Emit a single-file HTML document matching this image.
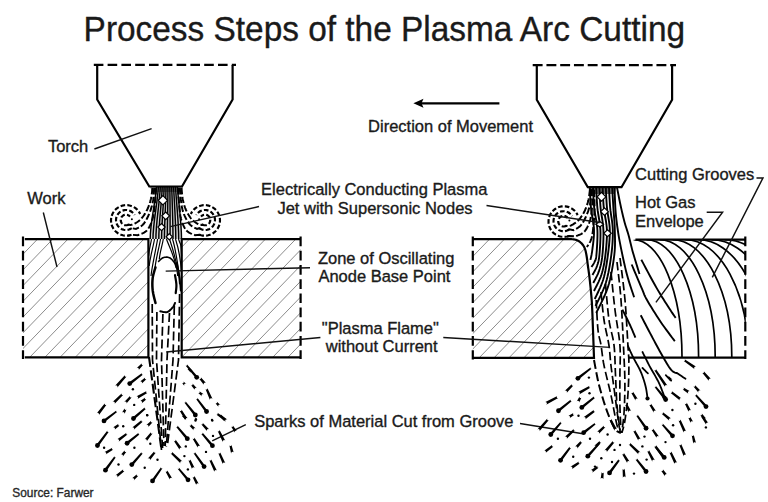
<!DOCTYPE html>
<html><head><meta charset="utf-8">
<style>
html,body{margin:0;padding:0;background:#fff;width:768px;height:502px;overflow:hidden}
svg{display:block}
text{font-family:"Liberation Sans",sans-serif;fill:#1a1a1a;stroke:#1a1a1a;stroke-width:0.35px}
</style></head><body>
<svg width="768" height="502" viewBox="0 0 768 502">
<defs>
<clipPath id="clipR"><rect x="474" y="239.7" width="271.8" height="117.6"/></clipPath>
<clipPath id="clipHL"><rect x="23" y="239" width="125.4" height="118.4"/><rect x="181.6" y="239" width="119" height="118.4"/></clipPath>
<clipPath id="clipHR"><path d="M472.8,239.2 L566.00,239.20 L566.39,239.20 L566.92,239.19 L567.55,239.18 L568.25,239.17 L568.98,239.17 L569.70,239.17 L570.39,239.18 L571.00,239.20 L571.55,239.22 L572.07,239.24 L572.57,239.26 L573.06,239.29 L573.54,239.34 L574.02,239.40 L574.51,239.49 L575.00,239.60 L575.50,239.74 L576.01,239.90 L576.52,240.08 L577.03,240.27 L577.54,240.50 L578.04,240.74 L578.52,241.01 L579.00,241.30 L579.47,241.62 L579.93,241.96 L580.39,242.33 L580.84,242.73 L581.28,243.14 L581.71,243.57 L582.11,244.03 L582.50,244.50 L582.87,244.98 L583.22,245.48 L583.55,245.98 L583.87,246.51 L584.17,247.07 L584.46,247.67 L584.74,248.31 L585.00,249.00 L585.25,249.74 L585.47,250.53 L585.68,251.35 L585.88,252.22 L586.07,253.12 L586.25,254.05 L586.43,255.01 L586.60,256.00 L586.77,257.02 L586.92,258.06 L587.07,259.14 L587.21,260.25 L587.35,261.39 L587.49,262.56 L587.64,263.77 L587.80,265.00 L587.97,266.26 L588.15,267.54 L588.34,268.85 L588.53,270.19 L588.72,271.57 L588.92,272.99 L589.11,274.47 L589.30,276.00 L589.49,277.60 L589.68,279.27 L589.88,280.99 L590.07,282.75 L590.26,284.54 L590.45,286.36 L590.63,288.18 L590.80,290.00 L590.97,291.76 L591.13,293.45 L591.28,295.11 L591.43,296.81 L591.58,298.60 L591.72,300.52 L591.86,302.64 L592.00,305.00 L592.13,307.63 L592.26,310.48 L592.39,313.52 L592.51,316.69 L592.63,319.97 L592.75,323.31 L592.88,326.67 L593.00,330.00 L593.13,333.54 L593.27,337.43 L593.42,341.48 L593.56,345.51 L593.70,349.35 L593.82,352.82 L593.92,355.73 L594.00,357.90 H472.8 Z"/></clipPath>
</defs>

<text transform="translate(83.6,40.7) scale(1,1.055)" x="0" y="0" font-size="33.4">Process Steps of the Plasma Arc Cutting</text>
<g font-size="16.5">
<text transform="translate(47.9,152.4) scale(1,1.03)" x="0" y="0">Torch</text>
<text transform="translate(27.3,204) scale(1,1.03)" x="0" y="0">Work</text>
<text transform="translate(368.1,131.9) scale(1,1.03)" x="0" y="0">Direction of Movement</text>
<text transform="translate(261.1,195.4) scale(1,1.03)" x="0" y="0">Electrically Conducting Plasma</text>
<text transform="translate(277.4,214) scale(1,1.03)" x="0" y="0">Jet with Supersonic Nodes</text>
<text transform="translate(317.9,264.4) scale(1,1.03)" x="0" y="0">Zone of Oscillating</text>
<text transform="translate(318.4,282.3) scale(1,1.03)" x="0" y="0">Anode Base Point</text>
<text transform="translate(321.8,334.2) scale(1,1.03)" x="0" y="0">"Plasma Flame"</text>
<text transform="translate(325.8,352) scale(1,1.03)" x="0" y="0">without Current</text>
<text transform="translate(254.2,427) scale(1,1.03)" x="0" y="0">Sparks of Material Cut from Groove</text>
<text transform="translate(635.1,180.3) scale(1,1.03)" x="0" y="0">Cutting Grooves</text>
<text transform="translate(635.0,207.8) scale(1,1.03)" x="0" y="0">Hot Gas</text>
<text transform="translate(635.0,227.3) scale(1,1.03)" x="0" y="0">Envelope</text>
</g>
<text x="12.3" y="496.9" font-size="11.9" style="fill:#333">Source: Farwer</text>
<path d="M24.43,237.00 L-93.84,359.40 M39.61,237.00 L-78.65,359.40 M54.80,237.00 L-63.46,359.40 M69.99,237.00 L-48.27,359.40 M85.18,237.00 L-33.08,359.40 M100.37,237.00 L-17.89,359.40 M115.56,237.00 L-2.71,359.40 M130.74,237.00 L12.48,359.40 M145.93,237.00 L27.67,359.40 M161.12,237.00 L42.86,359.40 M176.31,237.00 L58.05,359.40 M191.50,237.00 L73.24,359.40 M206.69,237.00 L88.43,359.40 M221.87,237.00 L103.61,359.40 M237.06,237.00 L118.80,359.40 M252.25,237.00 L133.99,359.40 M267.44,237.00 L149.18,359.40 M282.63,237.00 L164.37,359.40 M297.82,237.00 L179.56,359.40 M313.00,237.00 L194.74,359.40 M328.19,237.00 L209.93,359.40 M343.38,237.00 L225.12,359.40 M358.57,237.00 L240.31,359.40 M373.76,237.00 L255.50,359.40 M388.95,237.00 L270.69,359.40 M404.14,237.00 L285.87,359.40" stroke="#8c8c8c" stroke-width="1" fill="none" clip-path="url(#clipHL)"/>
<g stroke="#000" fill="none" stroke-width="2.2">
<path d="M93.8,64.9 H236" stroke-dasharray="9.6,4.2"/>
<path d="M97.2,64.9 V99.5 L149.3,186.5 H182 L232.6,99.5 V64.9"/>
<path d="M24.8,239.1 H148.4 V357.4 H24.8"/>
<path d="M300.6,239.1 H181.7 V357.4 H300.6"/>
<path d="M23,236.6 V359" stroke-dasharray="9.7,4.5"/>
<path d="M300.6,236.6 V359" stroke-dasharray="9.7,4.5"/>
</g>
<path d="M156.5,187 H177.4 C178.5,205 181.6,222 181.6,239 H150.2 C150.2,222 155.5,205 156.5,187 Z" fill="#000" opacity="0.15"/>
<path d="M150,187 H183 L181,192 H152 Z" fill="#000" opacity="0.4"/>
<g stroke="#000" fill="none" stroke-width="1.45">
<path d="M156.5,187 C155.1,205 150.2,222 150.2,239"/>
<path d="M158.4,187 C157.3,205 153.0,222 153.0,239"/>
<path d="M160.3,187 C159.4,205 155.9,222 155.9,239"/>
<path d="M162.2,187 C161.6,205 158.8,222 158.8,239"/>
<path d="M164.1,187 C163.7,205 161.6,222 161.6,239"/>
<path d="M166.0,187 C165.9,205 164.4,222 164.4,239"/>
<path d="M167.9,187 C168.0,205 167.3,222 167.3,239"/>
<path d="M169.8,187 C170.2,205 170.1,222 170.1,239"/>
<path d="M171.7,187 C172.3,205 173.0,222 173.0,239"/>
<path d="M173.6,187 C174.5,205 175.8,222 175.8,239"/>
<path d="M175.5,187 C176.6,205 178.7,222 178.7,239"/>
<path d="M177.4,187 C178.8,205 181.5,222 181.5,239"/>
</g>
<g stroke="#000" fill="none" stroke-width="1.2">
<path d="M151.5,239 C150.5,246 149.6,246.0 148.6,256.0"/>
<path d="M154.5,239 C153.5,246 150.2,256.0 149.2,266.0"/>
<path d="M157.6,239 C156.6,246 152.0,266.0 151.0,276.0"/>
<path d="M160.5,239 C159.5,246 156.0,258.0 155.0,268.0"/>
<path d="M163.3,239 C162.3,246 160.3,249.3 159.3,259.3"/>
<path d="M158.20,261.80 L158.57,261.46 L159.05,260.97 L159.62,260.38 L160.26,259.75 L160.94,259.12 L161.66,258.53 L162.39,258.04 L163.10,257.70 L163.83,257.47 L164.61,257.30 L165.42,257.19 L166.25,257.14 L167.08,257.17 L167.89,257.27 L168.67,257.44 L169.40,257.70 L170.10,258.06 L170.79,258.54 L171.46,259.11 L172.11,259.75 L172.73,260.43 L173.30,261.13 L173.83,261.83 L174.30,262.50 L174.71,263.20 L175.07,263.98 L175.38,264.79 L175.66,265.60 L175.89,266.38 L176.09,267.08 L176.26,267.66 L176.40,268.10" stroke-width="1.6"/>
<path d="M166.5,239 C169.5,248 176.7,260.0 177.7,276.0"/>
<path d="M169.5,239 C172.5,248 178.6,268.3 179.6,284.3"/>
<path d="M172.5,239 C175.5,248 179.8,275.5 180.8,291.5"/>
<path d="M175.5,239 C178.5,248 180.4,256.0 181.4,272.0"/>
<path d="M178.5,239 C181.5,248 180.6,240.0 181.6,256.0"/>
</g>
<g stroke="#000" fill="none" stroke-width="2.15" stroke-dasharray="4.6,2.2">
<path d="M131.53,234.78 L129.84,235.29 L128.10,235.59 L126.33,235.70 L124.57,235.60 L122.83,235.30 L121.13,234.80 L119.50,234.11 L117.97,233.23 L116.54,232.18 L115.25,230.98 L114.10,229.63 L113.12,228.17 L112.31,226.59 L111.69,224.94 L111.26,223.22 L111.04,221.47 L111.02,219.70 L111.20,217.94 L111.58,216.21 L112.16,214.54 L112.93,212.95 L113.88,211.46 L115.00,210.09 L116.26,208.85 L117.66,207.77 L119.18,206.86 L120.79,206.13 L122.47,205.59 L124.20,205.24 L125.97,205.10 L127.73,205.17 L129.48,205.43 L131.19,205.90 L132.83,206.56 L134.38,207.41 L135.82,208.43 L137.14,209.60 L138.32,210.93 L139.33,212.38 L140.17,213.93"/>
<path d="M199.47,234.78 L201.16,235.29 L202.90,235.59 L204.67,235.70 L206.43,235.60 L208.17,235.30 L209.87,234.80 L211.50,234.11 L213.03,233.23 L214.46,232.18 L215.75,230.98 L216.90,229.63 L217.88,228.17 L218.69,226.59 L219.31,224.94 L219.74,223.22 L219.96,221.47 L219.98,219.70 L219.80,217.94 L219.42,216.21 L218.84,214.54 L218.07,212.95 L217.12,211.46 L216.00,210.09 L214.74,208.85 L213.34,207.77 L211.82,206.86 L210.21,206.13 L208.53,205.59 L206.80,205.24 L205.03,205.10 L203.27,205.17 L201.52,205.43 L199.81,205.90 L198.17,206.56 L196.62,207.41 L195.18,208.43 L193.86,209.60 L192.68,210.93 L191.67,212.38 L190.83,213.93"/>
<path d="M131.74,228.19 L130.71,228.82 L129.62,229.32 L128.48,229.69 L127.31,229.91 L126.11,230.00 L124.91,229.94 L123.73,229.74 L122.58,229.40 L121.48,228.92 L120.44,228.31 L119.49,227.59 L118.63,226.76 L117.87,225.82 L117.23,224.81 L116.72,223.73 L116.34,222.59 L116.10,221.41 L116.00,220.22 L116.05,219.02 L116.24,217.84 L116.57,216.68 L117.03,215.58 L117.63,214.54 L118.34,213.57 L119.16,212.70 L120.09,211.94 L121.09,211.29 L122.17,210.76 L123.31,210.37 L124.48,210.12 L125.67,210.01 L126.87,210.04 L128.06,210.21 L129.21,210.53 L130.32,210.98 L131.37,211.57 L132.34,212.27 L133.22,213.08 L134.00,214.00 L134.66,215.00"/>
<path d="M199.26,228.19 L200.29,228.82 L201.38,229.32 L202.52,229.69 L203.69,229.91 L204.89,230.00 L206.09,229.94 L207.27,229.74 L208.42,229.40 L209.52,228.92 L210.56,228.31 L211.51,227.59 L212.37,226.76 L213.13,225.82 L213.77,224.81 L214.28,223.73 L214.66,222.59 L214.90,221.41 L215.00,220.22 L214.95,219.02 L214.76,217.84 L214.43,216.68 L213.97,215.58 L213.37,214.54 L212.66,213.57 L211.84,212.70 L210.91,211.94 L209.91,211.29 L208.83,210.76 L207.69,210.37 L206.52,210.12 L205.33,210.01 L204.13,210.04 L202.94,210.21 L201.79,210.53 L200.68,210.98 L199.63,211.57 L198.66,212.27 L197.78,213.08 L197.00,214.00 L196.34,215.00"/>
<path d="M128.65,224.59 L128.11,224.86 L127.55,225.07 L126.97,225.21 L126.37,225.29 L125.77,225.29 L125.17,225.23 L124.58,225.11 L124.01,224.91 L123.47,224.66 L122.96,224.34 L122.49,223.97 L122.06,223.55 L121.69,223.08 L121.36,222.57 L121.10,222.03 L120.91,221.46 L120.77,220.87 L120.71,220.28 L120.71,219.68 L120.78,219.08 L120.92,218.49 L121.12,217.93 L121.39,217.39 L121.71,216.88 L122.09,216.42 L122.52,216.00 L123.00,215.63 L123.51,215.32 L124.06,215.07 L124.63,214.88 L125.22,214.76 L125.82,214.70 L126.42,214.72 L127.01,214.80 L127.59,214.95 L128.16,215.16 L128.69,215.43 L129.19,215.77 L129.65,216.16 L130.06,216.59"/>
<path d="M202.35,224.59 L202.89,224.86 L203.45,225.07 L204.03,225.21 L204.63,225.29 L205.23,225.29 L205.83,225.23 L206.42,225.11 L206.99,224.91 L207.53,224.66 L208.04,224.34 L208.51,223.97 L208.94,223.55 L209.31,223.08 L209.64,222.57 L209.90,222.03 L210.09,221.46 L210.23,220.87 L210.29,220.28 L210.29,219.68 L210.22,219.08 L210.08,218.49 L209.88,217.93 L209.61,217.39 L209.29,216.88 L208.91,216.42 L208.48,216.00 L208.00,215.63 L207.49,215.32 L206.94,215.07 L206.37,214.88 L205.78,214.76 L205.18,214.70 L204.58,214.72 L203.99,214.80 L203.41,214.95 L202.84,215.16 L202.31,215.43 L201.81,215.77 L201.35,216.16 L200.94,216.59"/>
</g>
<g stroke="#000" fill="none" stroke-width="2.0" stroke-dasharray="6.5,2.3">
<path d="M156.00,188.00 L155.95,188.82 L155.89,189.86 L155.82,191.08 L155.74,192.46 L155.65,193.95 L155.55,195.53 L155.43,197.15 L155.31,198.80 L155.16,200.42 L155.00,202.00 L154.83,203.59 L154.66,205.26 L154.49,206.99 L154.30,208.76 L154.10,210.54 L153.87,212.31 L153.61,214.05 L153.32,215.72 L152.98,217.31 L152.60,218.80 L152.17,220.21 L151.71,221.58 L151.21,222.91 L150.68,224.18 L150.11,225.41 L149.51,226.57 L148.88,227.67 L148.22,228.69 L147.52,229.64 L146.80,230.50 L145.99,231.27 L145.06,231.96 L144.05,232.57 L143.00,233.11 L141.94,233.58 L140.91,233.99 L139.94,234.36 L139.08,234.67 L138.35,234.95 L137.80,235.20 L131.53,234.78 L129.84,235.29 L128.10,235.59"/>
<path d="M178.00,188.00 L178.06,188.82 L178.12,189.86 L178.19,191.08 L178.28,192.46 L178.38,193.95 L178.48,195.53 L178.59,197.15 L178.72,198.80 L178.85,200.42 L179.00,202.00 L179.14,203.59 L179.28,205.26 L179.42,206.99 L179.56,208.76 L179.72,210.54 L179.90,212.31 L180.11,214.05 L180.36,215.72 L180.65,217.31 L181.00,218.80 L181.39,220.21 L181.83,221.58 L182.30,222.91 L182.80,224.18 L183.34,225.41 L183.92,226.57 L184.52,227.67 L185.15,228.69 L185.81,229.64 L186.50,230.50 L187.27,231.27 L188.14,231.96 L189.10,232.57 L190.09,233.11 L191.09,233.58 L192.07,233.99 L192.98,234.36 L193.80,234.67 L194.48,234.95 L195.00,235.20 L199.47,234.78 L201.16,235.29 L202.90,235.59"/>
<path d="M154.20,188.00 L154.14,188.76 L154.07,189.73 L154.00,190.89 L153.92,192.18 L153.82,193.58 L153.70,195.04 L153.57,196.52 L153.41,197.98 L153.22,199.39 L153.00,200.70 L152.75,201.95 L152.49,203.21 L152.20,204.46 L151.89,205.71 L151.55,206.96 L151.19,208.19 L150.81,209.42 L150.40,210.63 L149.96,211.82 L149.50,213.00 L149.01,214.18 L148.48,215.38 L147.93,216.58 L147.35,217.78 L146.75,218.96 L146.13,220.09 L145.49,221.18 L144.84,222.20 L144.17,223.15 L143.50,224.00 L142.78,224.77 L141.98,225.46 L141.12,226.10 L140.25,226.67 L139.38,227.19 L138.53,227.65 L137.75,228.06 L137.04,228.42 L136.45,228.73 L136.00,229.00 L131.74,228.19 L130.71,228.82 L129.62,229.32"/>
<path d="M179.80,188.00 L179.87,188.76 L179.94,189.73 L180.03,190.89 L180.13,192.18 L180.24,193.58 L180.37,195.04 L180.51,196.52 L180.66,197.98 L180.82,199.39 L181.00,200.70 L181.18,201.95 L181.36,203.21 L181.54,204.46 L181.74,205.71 L181.95,206.96 L182.19,208.19 L182.45,209.42 L182.76,210.63 L183.10,211.82 L183.50,213.00 L183.95,214.18 L184.45,215.38 L185.00,216.58 L185.58,217.78 L186.19,218.96 L186.82,220.09 L187.48,221.18 L188.15,222.20 L188.82,223.15 L189.50,224.00 L190.22,224.77 L191.02,225.46 L191.88,226.10 L192.75,226.67 L193.62,227.19 L194.47,227.65 L195.25,228.06 L195.96,228.42 L196.55,228.73 L197.00,229.00 L199.26,228.19 L200.29,228.82 L201.38,229.32"/>
<path d="M152.50,188.00 L152.41,188.68 L152.30,189.56 L152.18,190.61 L152.04,191.78 L151.89,193.04 L151.71,194.35 L151.52,195.68 L151.30,196.99 L151.06,198.24 L150.80,199.40 L150.51,200.50 L150.21,201.60 L149.88,202.69 L149.54,203.77 L149.17,204.85 L148.78,205.91 L148.37,206.96 L147.93,208.00 L147.48,209.01 L147.00,210.00 L146.49,210.98 L145.96,211.97 L145.39,212.94 L144.81,213.91 L144.20,214.85 L143.58,215.76 L142.94,216.64 L142.30,217.48 L141.65,218.27 L141.00,219.00 L140.33,219.68 L139.62,220.32 L138.88,220.92 L138.13,221.48 L137.38,222.00 L136.63,222.48 L135.91,222.92 L135.22,223.32 L134.58,223.68 L134.00,224.00 L133.46,224.27 L132.94,224.47 L132.45,224.63 L131.99,224.74 L131.56,224.81 L131.17,224.86 L130.81,224.90 L130.50,224.93 L130.22,224.96 L130.00,225.00 L128.65,224.59 L128.11,224.86 L127.55,225.07"/>
<path d="M181.50,188.00 L181.57,188.68 L181.65,189.56 L181.73,190.61 L181.84,191.78 L181.95,193.04 L182.08,194.35 L182.23,195.68 L182.40,196.99 L182.59,198.24 L182.80,199.40 L183.03,200.50 L183.28,201.60 L183.55,202.69 L183.83,203.77 L184.14,204.85 L184.46,205.91 L184.81,206.96 L185.18,208.00 L185.58,209.01 L186.00,210.00 L186.45,210.98 L186.94,211.97 L187.45,212.94 L187.99,213.91 L188.54,214.85 L189.12,215.76 L189.70,216.64 L190.30,217.48 L190.90,218.27 L191.50,219.00 L192.12,219.68 L192.78,220.32 L193.46,220.92 L194.15,221.48 L194.84,222.00 L195.53,222.48 L196.20,222.92 L196.84,223.32 L197.45,223.68 L198.00,224.00 L198.52,224.27 L199.02,224.47 L199.51,224.63 L199.97,224.74 L200.41,224.81 L200.81,224.86 L201.17,224.90 L201.50,224.93 L201.77,224.96 L202.00,225.00 L202.35,224.59 L202.89,224.86 L203.45,225.07"/>
</g>
<circle cx="131.4" cy="211.6" r="1.0" fill="#000"/>
<circle cx="131.9" cy="219.2" r="1.0" fill="#000"/>
<circle cx="199.6" cy="211.6" r="1.0" fill="#000"/>
<circle cx="199.1" cy="219.2" r="1.0" fill="#000"/>
<path d="M162.9,195.7 L167.5,200.3 L162.9,204.9 L158.3,200.3 Z" fill="#fff" stroke="#000" stroke-width="1.2"/>
<path d="M165.7,212.0 L169.5,215.8 L165.7,219.6 L161.9,215.8 Z" fill="#fff" stroke="#000" stroke-width="1.2"/>
<path d="M161.5,223.5 L165.1,227.1 L161.5,230.7 L157.9,227.1 Z" fill="#fff" stroke="#000" stroke-width="1.2"/>
<path d="M169.3,233.7 L172.4,236.8 L169.3,239.9 L166.2,236.8 Z" fill="#fff" stroke="#000" stroke-width="1.2"/>
<g stroke="#000" fill="none" stroke-linecap="round">
<path d="M155.50,267.40 L155.26,268.20 L154.93,269.24 L154.53,270.48 L154.10,271.87 L153.67,273.35 L153.27,274.89 L152.94,276.42 L152.70,277.90 L152.55,279.37 L152.44,280.88 L152.37,282.44 L152.35,284.02 L152.37,285.62 L152.44,287.22 L152.55,288.82 L152.70,290.40 L152.94,292.06 L153.27,293.84 L153.67,295.67 L154.10,297.48 L154.53,299.19 L154.93,300.73 L155.26,302.03 L155.50,303.00" stroke-width="2.5"/>
<path d="M175.00,275.10 L175.12,275.86 L175.30,276.87 L175.51,278.08 L175.74,279.43 L175.97,280.83 L176.16,282.24 L176.32,283.58 L176.40,284.80 L176.41,285.97 L176.36,287.19 L176.26,288.41 L176.14,289.61 L176.00,290.72 L175.88,291.72 L175.77,292.56 L175.70,293.20" stroke-width="2.2"/>
<path d="M160.30,311.30 L160.85,311.39 L161.59,311.56 L162.47,311.76 L163.45,311.96 L164.47,312.12 L165.48,312.20 L166.44,312.18 L167.30,312.00 L168.09,311.65 L168.88,311.15 L169.66,310.54 L170.41,309.85 L171.12,309.12 L171.78,308.40 L172.38,307.71 L172.90,307.10 L173.34,306.52 L173.72,305.92 L174.04,305.32 L174.30,304.74 L174.52,304.20 L174.70,303.72 L174.86,303.31 L175.00,303.00" stroke-width="2"/>
<path d="M177.00,262.50 L177.23,263.71 L177.55,265.34 L177.94,267.27 L178.36,269.42 L178.78,271.66 L179.18,273.89 L179.53,276.01 L179.80,277.90 L179.99,279.69 L180.14,281.52 L180.25,283.35 L180.33,285.11 L180.38,286.76 L180.42,288.22 L180.46,289.46 L180.50,290.40" stroke-width="1.4"/>
</g>
<g stroke="#000" fill="none" stroke-width="1.7" stroke-dasharray="9,3.8">
<path d="M152.2,304 L152.5,360 L161.5,450"/>
<path d="M156.9,312 L156.5,360 L162.6,448"/>
<path d="M162.9,314 L161.5,360 L164.0,446"/>
<path d="M169.5,313 L167.0,360 L165.2,446"/>
<path d="M174.3,306 L173.0,360 L166.3,447"/>
<path d="M179.6,294 L178.5,360 L167.3,446"/>
</g>
<g stroke="#000" fill="none" stroke-width="2.1" stroke-dasharray="10,3.5">
<path d="M149,357 L161.5,450"/>
</g>
<path d="M461.80,237.00 L342.96,360.00 M476.70,237.00 L357.86,360.00 M491.59,237.00 L372.75,360.00 M506.49,237.00 L387.65,360.00 M521.39,237.00 L402.55,360.00 M536.29,237.00 L417.45,360.00 M551.19,237.00 L432.35,360.00 M566.09,237.00 L447.25,360.00 M580.99,237.00 L462.14,360.00 M595.88,237.00 L477.04,360.00 M610.78,237.00 L491.94,360.00 M625.68,237.00 L506.84,360.00 M640.58,237.00 L521.74,360.00 M655.48,237.00 L536.64,360.00 M670.38,237.00 L551.54,360.00 M685.28,237.00 L566.43,360.00 M700.17,237.00 L581.33,360.00" stroke="#8c8c8c" stroke-width="1" fill="none" clip-path="url(#clipHR)"/>
<g stroke="#000" fill="none" stroke-width="2.2">
<path d="M532.7,65.1 H676" stroke-dasharray="9.9,3.85"/>
<path d="M536.8,65.1 V99.7 L587.8,187.2 H621.5 L672.1,99.7 V65.1"/>
<path d="M472.8,239.2 L566.00,239.20 L566.39,239.20 L566.92,239.19 L567.55,239.18 L568.25,239.17 L568.98,239.17 L569.70,239.17 L570.39,239.18 L571.00,239.20 L571.55,239.22 L572.07,239.24 L572.57,239.26 L573.06,239.29 L573.54,239.34 L574.02,239.40 L574.51,239.49 L575.00,239.60 L575.50,239.74 L576.01,239.90 L576.52,240.08 L577.03,240.27 L577.54,240.50 L578.04,240.74 L578.52,241.01 L579.00,241.30 L579.47,241.62 L579.93,241.96 L580.39,242.33 L580.84,242.73 L581.28,243.14 L581.71,243.57 L582.11,244.03 L582.50,244.50 L582.87,244.98 L583.22,245.48 L583.55,245.98 L583.87,246.51 L584.17,247.07 L584.46,247.67 L584.74,248.31 L585.00,249.00 L585.25,249.74 L585.47,250.53 L585.68,251.35 L585.88,252.22 L586.07,253.12 L586.25,254.05 L586.43,255.01 L586.60,256.00 L586.77,257.02 L586.92,258.06 L587.07,259.14 L587.21,260.25 L587.35,261.39 L587.49,262.56 L587.64,263.77 L587.80,265.00 L587.97,266.26 L588.15,267.54 L588.34,268.85 L588.53,270.19 L588.72,271.57 L588.92,272.99 L589.11,274.47 L589.30,276.00 L589.49,277.60 L589.68,279.27 L589.88,280.99 L590.07,282.75 L590.26,284.54 L590.45,286.36 L590.63,288.18 L590.80,290.00 L590.97,291.76 L591.13,293.45 L591.28,295.11 L591.43,296.81 L591.58,298.60 L591.72,300.52 L591.86,302.64 L592.00,305.00 L592.13,307.63 L592.26,310.48 L592.39,313.52 L592.51,316.69 L592.63,319.97 L592.75,323.31 L592.88,326.67 L593.00,330.00 L593.13,333.54 L593.27,337.43 L593.42,341.48 L593.56,345.51 L593.70,349.35 L593.82,352.82 L593.92,355.73 L594.00,357.90 H472.8"/>
<path d="M635.4,239.7 H745.3"/>
<path d="M628.2,357.7 H745.3"/>
<path d="M472.8,236.6 V359.5" stroke-dasharray="9.7,4.5"/>
<path d="M745.3,236.6 V359" stroke-dasharray="9.7,4.5"/>
</g>
<g stroke="#000" fill="none" stroke-width="1.7" clip-path="url(#clipR)">
<path d="M633.5,239.7 A48.5,117.3 0 0 1 682.0,357"/>
<path d="M646.5,239.7 A52.1,117.3 0 0 1 698.6,357"/>
<path d="M659.5,239.7 A55.7,117.3 0 0 1 715.2,357"/>
<path d="M672.5,239.7 A59.3,117.3 0 0 1 731.8,357"/>
<path d="M685.5,239.7 A62.9,117.3 0 0 1 748.4,357"/>
<path d="M698.5,239.7 A66.5,117.3 0 0 1 765.0,357"/>
<path d="M711.5,239.7 A70.1,117.3 0 0 1 781.6,357"/>
<path d="M724.5,239.7 A73.7,117.3 0 0 1 798.2,357"/>
</g>
<path d="M588.5,187.5 H616 L615,194 H590 Z" fill="#000" opacity="0.6"/>
<g stroke="#000" fill="none" stroke-width="1.9">
<path d="M589.80,187.50 L589.88,189.07 L589.97,191.15 L590.08,193.62 L590.21,196.38 L590.37,199.30 L590.55,202.29 L590.76,205.23 L591.00,208.00 L591.32,210.69 L591.73,213.44 L592.20,216.23 L592.68,219.03 L593.14,221.83 L593.54,224.61 L593.84,227.34 L594.00,230.00 L594.01,232.66 L593.91,235.38 L593.72,238.09 L593.46,240.76 L593.16,243.33 L592.85,245.76 L592.55,248.00 L592.30,250.00 L592.06,251.79 L591.79,253.42 L591.52,254.89 L591.24,256.20 L590.98,257.36 L590.75,258.36 L590.55,259.21 L590.40,259.90"/>
<path d="M593.00,187.50 L593.08,189.07 L593.17,191.15 L593.27,193.62 L593.40,196.38 L593.55,199.30 L593.73,202.29 L593.95,205.23 L594.20,208.00 L594.53,210.66 L594.96,213.32 L595.44,216.01 L595.94,218.72 L596.42,221.46 L596.85,224.25 L597.19,227.10 L597.40,230.00 L597.48,233.11 L597.46,236.47 L597.36,239.96 L597.21,243.46 L597.01,246.84 L596.80,249.97 L596.59,252.73 L596.40,255.00 L596.23,256.71 L596.06,257.97 L595.87,258.88 L595.68,259.52 L595.47,260.02 L595.23,260.47 L594.97,260.96 L594.68,261.60 L594.34,262.37 L593.92,263.16 L593.46,263.95 L592.99,264.71 L592.53,265.42 L592.11,266.06 L591.76,266.59 L591.50,267.00"/>
<path d="M596.20,187.50 L596.28,189.07 L596.37,191.15 L596.48,193.62 L596.61,196.38 L596.77,199.30 L596.95,202.29 L597.16,205.23 L597.40,208.00 L597.72,210.66 L598.12,213.32 L598.57,216.01 L599.04,218.72 L599.49,221.46 L599.89,224.25 L600.20,227.10 L600.40,230.00 L600.48,233.08 L600.46,236.37 L600.38,239.77 L600.24,243.19 L600.05,246.52 L599.84,249.66 L599.62,252.52 L599.40,255.00 L599.18,257.06 L598.94,258.78 L598.69,260.24 L598.41,261.50 L598.10,262.64 L597.77,263.72 L597.40,264.82 L596.99,266.00 L596.49,267.28 L595.90,268.60 L595.26,269.92 L594.59,271.19 L593.94,272.37 L593.35,273.43 L592.86,274.32 L592.50,275.00"/>
<path d="M599.40,187.50 L599.48,189.07 L599.58,191.15 L599.69,193.62 L599.83,196.38 L599.98,199.30 L600.16,202.29 L600.37,205.23 L600.60,208.00 L600.90,210.66 L601.28,213.32 L601.70,216.01 L602.14,218.72 L602.56,221.46 L602.93,224.25 L603.22,227.10 L603.40,230.00 L603.47,233.05 L603.47,236.26 L603.40,239.58 L603.27,242.91 L603.10,246.20 L602.89,249.35 L602.66,252.31 L602.40,255.00 L602.13,257.40 L601.82,259.59 L601.49,261.60 L601.11,263.48 L600.71,265.25 L600.25,266.97 L599.76,268.67 L599.21,270.40 L598.57,272.20 L597.79,274.04 L596.94,275.88 L596.06,277.66 L595.20,279.32 L594.43,280.80 L593.77,282.05 L593.30,283.00"/>
<path d="M602.60,187.50 L602.68,189.07 L602.77,191.15 L602.88,193.62 L603.01,196.38 L603.16,199.30 L603.34,202.29 L603.55,205.23 L603.80,208.00 L604.13,210.66 L604.55,213.32 L605.03,216.01 L605.52,218.72 L605.99,221.46 L606.40,224.25 L606.72,227.10 L606.90,230.00 L606.95,233.02 L606.91,236.16 L606.78,239.38 L606.59,242.64 L606.35,245.87 L606.06,249.05 L605.74,252.10 L605.40,255.00 L605.04,257.75 L604.66,260.40 L604.24,262.96 L603.77,265.45 L603.27,267.87 L602.71,270.23 L602.09,272.53 L601.41,274.80 L600.60,277.11 L599.62,279.48 L598.56,281.85 L597.46,284.14 L596.39,286.27 L595.41,288.17 L594.60,289.77 L594.00,291.00"/>
<path d="M605.80,187.50 L605.88,189.07 L605.98,191.15 L606.09,193.62 L606.22,196.38 L606.38,199.30 L606.56,202.29 L606.77,205.23 L607.00,208.00 L607.31,210.66 L607.70,213.32 L608.14,216.01 L608.59,218.72 L609.02,221.46 L609.39,224.25 L609.66,227.10 L609.80,230.00 L609.81,232.99 L609.72,236.06 L609.55,239.19 L609.31,242.36 L609.02,245.55 L608.67,248.74 L608.30,251.89 L607.90,255.00 L607.48,258.09 L607.03,261.21 L606.55,264.33 L606.02,267.42 L605.44,270.48 L604.80,273.48 L604.09,276.39 L603.31,279.20 L602.38,282.02 L601.26,284.92 L600.04,287.82 L598.77,290.61 L597.54,293.22 L596.42,295.55 L595.48,297.50 L594.80,299.00"/>
<path d="M609.00,187.50 L609.08,189.07 L609.18,191.15 L609.30,193.62 L609.44,196.38 L609.59,199.30 L609.77,202.29 L609.97,205.23 L610.20,208.00 L610.49,210.66 L610.85,213.32 L611.25,216.01 L611.67,218.72 L612.06,221.46 L612.41,224.25 L612.66,227.10 L612.80,230.00 L612.84,232.96 L612.81,235.97 L612.71,239.02 L612.56,242.12 L612.34,245.27 L612.05,248.47 L611.71,251.71 L611.30,255.00 L610.83,258.40 L610.31,261.92 L609.73,265.52 L609.08,269.15 L608.37,272.77 L607.58,276.32 L606.72,279.77 L605.77,283.05 L604.64,286.32 L603.30,289.68 L601.81,293.04 L600.29,296.28 L598.81,299.30 L597.46,302.00 L596.32,304.26 L595.50,306.00"/>
<path d="M612.20,187.50 L612.29,189.07 L612.41,191.15 L612.55,193.62 L612.71,196.38 L612.88,199.30 L613.06,202.29 L613.23,205.23 L613.40,208.00 L613.58,210.66 L613.78,213.32 L613.99,216.01 L614.21,218.72 L614.41,221.46 L614.58,224.25 L614.71,227.10 L614.80,230.00 L614.87,232.93 L614.95,235.88 L615.01,238.85 L615.03,241.88 L615.00,244.99 L614.88,248.19 L614.65,251.52 L614.30,255.00 L613.82,258.70 L613.25,262.63 L612.59,266.71 L611.84,270.88 L610.99,275.06 L610.07,279.17 L609.06,283.14 L607.97,286.90 L606.67,290.62 L605.13,294.44 L603.43,298.26 L601.69,301.94 L599.99,305.38 L598.44,308.45 L597.14,311.03 L596.20,313.00"/>
<path d="M617.00,187.50 L617.27,188.85 L617.62,190.66 L618.03,192.80 L618.50,195.19 L619.00,197.71 L619.51,200.25 L620.01,202.72 L620.50,205.00 L620.98,207.18 L621.46,209.38 L621.96,211.59 L622.47,213.78 L622.98,215.94 L623.49,218.04 L624.00,220.07 L624.50,222.00 L625.00,223.80 L625.50,225.46 L626.00,227.04 L626.50,228.57 L627.00,230.09 L627.50,231.64 L628.00,233.26 L628.50,235.00 L628.99,236.85 L629.48,238.77 L629.96,240.75 L630.45,242.76 L630.94,244.80 L631.44,246.85 L631.96,248.89 L632.50,250.90 L633.08,252.96 L633.70,255.10 L634.36,257.28 L635.01,259.45 L635.66,261.55 L636.26,263.52 L636.82,265.33 L637.30,266.90 L637.71,268.26 L638.08,269.47 L638.41,270.53 L638.70,271.45 L638.95,272.25 L639.17,272.93 L639.35,273.51 L639.50,274.00"/>
<path d="M614.50,187.50 L614.57,189.27 L614.66,191.65 L614.76,194.49 L614.88,197.62 L615.01,200.90 L615.16,204.16 L615.32,207.25 L615.50,210.00 L615.69,212.46 L615.90,214.81 L616.13,217.07 L616.37,219.27 L616.63,221.43 L616.90,223.59 L617.19,225.77 L617.50,228.00 L617.81,230.19 L618.12,232.29 L618.44,234.35 L618.78,236.44 L619.15,238.60 L619.57,240.91 L620.05,243.43 L620.60,246.20 L621.24,249.32 L621.95,252.76 L622.73,256.44 L623.55,260.24 L624.40,264.07 L625.27,267.84 L626.14,271.45 L627.00,274.80 L627.90,278.05 L628.89,281.36 L629.92,284.64 L630.95,287.79 L631.93,290.71 L632.81,293.32 L633.55,295.51 L634.10,297.20"/>
<path d="M631.70,264.50 L632.54,266.50 L633.70,269.26 L635.08,272.56 L636.59,276.17 L638.15,279.87 L639.64,283.42 L640.99,286.61 L642.10,289.20 L642.92,291.14 L643.51,292.63 L643.97,293.80 L644.36,294.80 L644.78,295.78 L645.31,296.87 L646.02,298.23 L647.00,300.00 L648.26,302.19 L649.73,304.66 L651.36,307.36 L653.11,310.19 L654.93,313.10 L656.78,316.00 L658.62,318.83 L660.40,321.50 L662.25,324.18 L664.27,327.01 L666.36,329.89 L668.44,332.69 L670.41,335.33 L672.19,337.70 L673.68,339.69 L674.80,341.20"/>
<path d="M641.30,259.70 L642.48,261.90 L644.07,264.88 L645.96,268.44 L648.05,272.36 L650.24,276.44 L652.43,280.48 L654.52,284.27 L656.40,287.60 L658.15,290.61 L659.91,293.54 L661.65,296.38 L663.34,299.09 L664.96,301.67 L666.50,304.07 L667.92,306.29 L669.20,308.30 L670.36,310.10 L671.42,311.71 L672.38,313.13 L673.25,314.39 L674.02,315.49 L674.68,316.44 L675.24,317.24 L675.70,317.90"/>
<path d="M640.70,315.20 L641.53,316.80 L642.64,318.92 L643.96,321.46 L645.43,324.27 L646.98,327.24 L648.55,330.23 L650.08,333.13 L651.50,335.80 L652.85,338.34 L654.22,340.91 L655.59,343.49 L656.96,346.04 L658.32,348.54 L659.65,350.97 L660.94,353.30 L662.20,355.50 L663.42,357.63 L664.63,359.73 L665.82,361.77 L666.98,363.71 L668.10,365.53 L669.18,367.19 L670.22,368.66 L671.20,369.90 L672.16,370.88 L673.11,371.62 L674.04,372.16 L674.91,372.55 L675.72,372.82 L676.43,373.03 L677.03,373.20 L677.50,373.40"/>
<path d="M622.40,309.60 L623.00,310.81 L623.82,312.43 L624.79,314.37 L625.86,316.51 L626.98,318.75 L628.08,320.99 L629.10,323.10 L630.00,325.00 L630.82,326.80 L631.63,328.64 L632.42,330.48 L633.17,332.26 L633.87,333.92 L634.48,335.40 L635.00,336.65 L635.40,337.60"/>
</g>
<g stroke="#000" fill="none" stroke-width="1.8" stroke-linecap="round">
<path d="M628.00,346.00 L628.37,346.82 L628.84,347.89 L629.39,349.16 L630.02,350.59 L630.71,352.13 L631.44,353.74 L632.21,355.38 L633.00,357.00 L633.85,358.65 L634.80,360.40 L635.82,362.22 L636.86,364.09 L637.91,365.98 L638.92,367.88 L639.86,369.76 L640.70,371.60 L641.46,373.43 L642.17,375.27 L642.84,377.12 L643.46,378.96 L644.03,380.78 L644.56,382.57 L645.05,384.32 L645.50,386.00 L645.90,387.70 L646.24,389.45 L646.54,391.20 L646.80,392.90 L647.02,394.48 L647.21,395.90 L647.36,397.09 L647.50,398.00"/>
<path d="M642.50,352.00 L643.04,353.09 L643.75,354.53 L644.59,356.24 L645.54,358.14 L646.55,360.18 L647.60,362.26 L648.66,364.33 L649.70,366.30 L650.76,368.24 L651.90,370.23 L653.08,372.27 L654.29,374.33 L655.48,376.39 L656.63,378.44 L657.72,380.45 L658.70,382.40 L659.62,384.40 L660.51,386.50 L661.36,388.63 L662.16,390.71 L662.89,392.66 L663.53,394.41 L664.07,395.88 L664.50,397.00"/>
<path d="M642.50,368.00 L642.95,368.45 L643.60,369.10 L644.37,369.87 L645.20,370.70 L646.03,371.53 L646.80,372.30 L647.45,372.95 L647.90,373.40"/>
<path d="M665.80,375.20 L666.25,375.65 L666.90,376.30 L667.67,377.07 L668.50,377.90 L669.33,378.73 L670.10,379.50 L670.75,380.15 L671.20,380.60"/>
<path d="M677.50,373.40 L678.17,373.85 L679.12,374.50 L680.27,375.27 L681.50,376.10 L682.73,376.93 L683.88,377.70 L684.83,378.35 L685.50,378.80"/>
</g>
<circle cx="647.5" cy="398.5" r="2.1" fill="#000"/>
<circle cx="664.5" cy="397.5" r="2.1" fill="#000"/>
<g stroke="#000" fill="none" stroke-width="2.15" stroke-dasharray="4.6,2.2">
<path d="M569.03,235.98 L567.34,236.49 L565.60,236.79 L563.83,236.90 L562.07,236.80 L560.33,236.50 L558.63,236.00 L557.00,235.31 L555.47,234.43 L554.04,233.38 L552.75,232.18 L551.60,230.83 L550.62,229.37 L549.81,227.79 L549.19,226.14 L548.76,224.42 L548.54,222.67 L548.52,220.90 L548.70,219.14 L549.08,217.41 L549.66,215.74 L550.43,214.15 L551.38,212.66 L552.50,211.29 L553.76,210.05 L555.16,208.97 L556.68,208.06 L558.29,207.33 L559.97,206.79 L561.70,206.44 L563.47,206.30 L565.23,206.37 L566.98,206.63 L568.69,207.10 L570.33,207.76 L571.88,208.61 L573.32,209.63 L574.64,210.80 L575.82,212.13 L576.83,213.58 L577.67,215.13"/>
<path d="M569.24,229.39 L568.21,230.02 L567.12,230.52 L565.98,230.89 L564.81,231.11 L563.61,231.20 L562.41,231.14 L561.23,230.94 L560.08,230.60 L558.98,230.12 L557.94,229.51 L556.99,228.79 L556.13,227.96 L555.37,227.02 L554.73,226.01 L554.22,224.93 L553.84,223.79 L553.60,222.61 L553.50,221.42 L553.55,220.22 L553.74,219.04 L554.07,217.88 L554.53,216.78 L555.13,215.74 L555.84,214.77 L556.66,213.90 L557.59,213.14 L558.59,212.49 L559.67,211.96 L560.81,211.57 L561.98,211.32 L563.17,211.21 L564.37,211.24 L565.56,211.41 L566.71,211.73 L567.82,212.18 L568.87,212.77 L569.84,213.47 L570.72,214.28 L571.50,215.20 L572.16,216.20"/>
<path d="M566.15,225.79 L565.61,226.06 L565.05,226.27 L564.47,226.41 L563.87,226.49 L563.27,226.49 L562.67,226.43 L562.08,226.31 L561.51,226.11 L560.97,225.86 L560.46,225.54 L559.99,225.17 L559.56,224.75 L559.19,224.28 L558.86,223.77 L558.60,223.23 L558.41,222.66 L558.27,222.07 L558.21,221.48 L558.21,220.88 L558.28,220.28 L558.42,219.69 L558.62,219.13 L558.89,218.59 L559.21,218.08 L559.59,217.62 L560.02,217.20 L560.50,216.83 L561.01,216.52 L561.56,216.27 L562.13,216.08 L562.72,215.96 L563.32,215.90 L563.92,215.92 L564.51,216.00 L565.09,216.15 L565.66,216.36 L566.19,216.63 L566.69,216.97 L567.15,217.36 L567.56,217.79"/>
</g>
<g stroke="#000" fill="none" stroke-width="2.0" stroke-dasharray="7,2.3">
<path d="M593.50,189.20 L593.45,190.02 L593.39,191.06 L593.32,192.28 L593.24,193.66 L593.15,195.15 L593.05,196.73 L592.93,198.35 L592.81,200.00 L592.66,201.62 L592.50,203.20 L592.33,204.79 L592.16,206.46 L591.99,208.19 L591.80,209.96 L591.60,211.74 L591.37,213.51 L591.11,215.25 L590.82,216.92 L590.48,218.51 L590.10,220.00 L589.67,221.41 L589.21,222.78 L588.71,224.11 L588.18,225.38 L587.61,226.61 L587.01,227.77 L586.38,228.87 L585.72,229.89 L585.02,230.84 L584.30,231.70 L583.49,232.47 L582.56,233.16 L581.55,233.77 L580.50,234.31 L579.44,234.78 L578.41,235.19 L577.44,235.56 L576.58,235.87 L575.85,236.15 L575.30,236.40 L569.03,235.98 L567.34,236.49 L565.60,236.79"/>
<path d="M591.70,189.20 L591.64,189.96 L591.57,190.93 L591.50,192.09 L591.42,193.38 L591.32,194.78 L591.20,196.24 L591.07,197.72 L590.91,199.18 L590.72,200.59 L590.50,201.90 L590.25,203.15 L589.99,204.41 L589.70,205.66 L589.39,206.91 L589.05,208.16 L588.69,209.39 L588.31,210.62 L587.90,211.83 L587.46,213.02 L587.00,214.20 L586.51,215.38 L585.98,216.58 L585.43,217.78 L584.85,218.98 L584.25,220.16 L583.63,221.29 L582.99,222.38 L582.34,223.40 L581.67,224.35 L581.00,225.20 L580.28,225.97 L579.48,226.66 L578.62,227.30 L577.75,227.87 L576.88,228.39 L576.03,228.85 L575.25,229.26 L574.54,229.62 L573.95,229.93 L573.50,230.20 L569.24,229.39 L568.21,230.02 L567.12,230.52"/>
<path d="M590.00,189.20 L589.91,189.88 L589.80,190.76 L589.68,191.81 L589.54,192.98 L589.39,194.24 L589.21,195.55 L589.02,196.88 L588.80,198.19 L588.56,199.44 L588.30,200.60 L588.01,201.70 L587.71,202.80 L587.38,203.89 L587.04,204.97 L586.67,206.05 L586.28,207.11 L585.87,208.16 L585.43,209.20 L584.98,210.21 L584.50,211.20 L583.99,212.18 L583.46,213.17 L582.89,214.14 L582.31,215.11 L581.70,216.05 L581.08,216.96 L580.44,217.84 L579.80,218.68 L579.15,219.47 L578.50,220.20 L577.83,220.88 L577.12,221.52 L576.38,222.12 L575.63,222.68 L574.88,223.20 L574.13,223.68 L573.41,224.12 L572.72,224.52 L572.08,224.88 L571.50,225.20 L570.96,225.47 L570.44,225.67 L569.95,225.83 L569.49,225.94 L569.06,226.01 L568.67,226.06 L568.31,226.10 L568.00,226.13 L567.72,226.16 L567.50,226.20 L566.15,225.79 L565.61,226.06 L565.05,226.27"/>
<path d="M594.00,190.00 L594.05,191.54 L594.14,193.59 L594.24,196.04 L594.34,198.75 L594.44,201.62 L594.50,204.53 L594.53,207.36 L594.50,210.00 L594.41,212.57 L594.28,215.23 L594.11,217.94 L593.91,220.62 L593.69,223.23 L593.46,225.70 L593.23,227.98 L593.00,230.00 L592.78,231.75 L592.56,233.27 L592.34,234.61 L592.11,235.81 L591.85,236.91 L591.57,237.95 L591.26,238.96 L590.90,240.00 L590.46,241.07 L589.94,242.12 L589.36,243.15 L588.77,244.12 L588.19,245.02 L587.66,245.81 L587.22,246.48 L586.90,247.00"/>
</g>
<circle cx="568.9" cy="212.8" r="1.0" fill="#000"/>
<circle cx="569.4" cy="220.4" r="1.0" fill="#000"/>
<path d="M601.5,192.4 L605.9,196.8 L601.5,201.2 L597.1,196.8 Z" fill="#fff" stroke="#000" stroke-width="1.2"/>
<path d="M604.5,207.9 L608.3,211.7 L604.5,215.5 L600.7,211.7 Z" fill="#fff" stroke="#000" stroke-width="1.2"/>
<path d="M599.7,221.5 L603.5,224.3 L599.7,227.1 L595.9,224.3 Z" fill="#fff" stroke="#000" stroke-width="1.2"/>
<path d="M607.5,229.8 L611.3,233.2 L607.5,236.6 L603.7,233.2 Z" fill="#fff" stroke="#000" stroke-width="1.2"/>
<g stroke="#000" fill="none" stroke-width="1.7" stroke-dasharray="8.5,3.6">
<path d="M596.20,300.00 L596.30,301.85 L596.43,304.32 L596.57,307.27 L596.73,310.56 L596.91,314.06 L597.11,317.64 L597.32,321.16 L597.53,324.48 L597.76,327.47 L598.00,330.00 L598.25,332.09 L598.52,333.88 L598.81,335.45 L599.12,336.84 L599.43,338.13 L599.75,339.37 L600.07,340.61 L600.39,341.93 L600.70,343.37 L601.00,345.00 L601.28,346.75 L601.52,348.51 L601.75,350.29 L601.97,352.13 L602.20,354.02 L602.45,355.98 L602.73,358.04 L603.06,360.20 L603.44,362.48 L603.90,364.90 L604.44,367.49 L605.05,370.24 L605.73,373.13 L606.45,376.14 L607.21,379.22 L607.98,382.36 L608.74,385.51 L609.50,388.66 L610.22,391.76 L610.90,394.80 L611.55,397.89 L612.20,401.13 L612.85,404.45 L613.49,407.80 L614.11,411.10 L614.72,414.30 L615.31,417.32 L615.87,420.10 L616.40,422.58 L616.90,424.70 L617.37,426.44 L617.83,427.88 L618.27,429.04 L618.69,429.97 L619.07,430.72 L619.43,431.31 L619.76,431.80 L620.05,432.22 L620.30,432.60 L620.50,433.00"/>
<path d="M601.00,292.00 L601.17,293.68 L601.38,295.86 L601.62,298.44 L601.89,301.33 L602.19,304.44 L602.52,307.67 L602.87,310.94 L603.23,314.14 L603.61,317.20 L604.00,320.00 L604.43,322.64 L604.90,325.27 L605.42,327.88 L605.96,330.46 L606.51,333.01 L607.06,335.51 L607.58,337.97 L608.08,340.37 L608.52,342.72 L608.90,345.00 L609.21,347.15 L609.45,349.15 L609.65,351.03 L609.81,352.85 L609.96,354.64 L610.10,356.46 L610.24,358.36 L610.42,360.36 L610.63,362.53 L610.90,364.90 L611.22,367.49 L611.57,370.24 L611.95,373.13 L612.36,376.14 L612.77,379.22 L613.20,382.36 L613.64,385.51 L614.07,388.66 L614.49,391.76 L614.90,394.80 L615.31,397.89 L615.73,401.13 L616.16,404.45 L616.59,407.80 L617.02,411.10 L617.44,414.30 L617.84,417.32 L618.22,420.10 L618.58,422.58 L618.90,424.70 L619.20,426.44 L619.48,427.88 L619.74,429.04 L619.98,429.97 L620.20,430.72 L620.40,431.31 L620.58,431.80 L620.74,432.22 L620.88,432.60 L621.00,433.00"/>
<path d="M605.50,284.00 L605.70,286.19 L605.95,289.07 L606.25,292.50 L606.58,296.34 L606.94,300.44 L607.32,304.66 L607.73,308.87 L608.15,312.93 L608.57,316.68 L609.00,320.00 L609.45,322.92 L609.96,325.62 L610.50,328.15 L611.06,330.55 L611.62,332.88 L612.18,335.17 L612.71,337.48 L613.20,339.86 L613.64,342.35 L614.00,345.00 L614.29,347.80 L614.52,350.68 L614.71,353.63 L614.85,356.64 L614.97,359.69 L615.07,362.76 L615.16,365.84 L615.26,368.92 L615.37,371.98 L615.50,375.00 L615.64,378.02 L615.78,381.08 L615.90,384.16 L616.03,387.24 L616.16,390.31 L616.29,393.36 L616.44,396.37 L616.60,399.32 L616.79,402.20 L617.00,405.00 L617.25,407.81 L617.55,410.72 L617.88,413.66 L618.24,416.56 L618.59,419.38 L618.94,422.04 L619.27,424.50 L619.57,426.68 L619.81,428.53 L620.00,430.00"/>
<path d="M611.00,272.00 L611.23,274.27 L611.53,277.22 L611.88,280.70 L612.27,284.61 L612.69,288.81 L613.14,293.19 L613.61,297.62 L614.08,301.98 L614.55,306.15 L615.00,310.00 L615.48,313.64 L616.00,317.27 L616.56,320.88 L617.13,324.46 L617.70,328.01 L618.25,331.51 L618.76,334.97 L619.22,338.37 L619.60,341.72 L619.90,345.00 L620.10,348.20 L620.21,351.31 L620.26,354.34 L620.25,357.33 L620.21,360.27 L620.14,363.18 L620.05,366.09 L619.98,369.00 L619.92,371.93 L619.90,374.90 L619.90,377.92 L619.88,380.98 L619.87,384.06 L619.85,387.15 L619.84,390.22 L619.83,393.27 L619.83,396.27 L619.84,399.20 L619.86,402.05 L619.90,404.80 L619.96,407.54 L620.05,410.35 L620.16,413.16 L620.28,415.94 L620.40,418.62 L620.52,421.15 L620.64,423.48 L620.75,425.55 L620.84,427.30 L620.90,428.70"/>
<path d="M617.00,262.00 L617.24,264.18 L617.56,266.90 L617.94,270.07 L618.36,273.65 L618.82,277.56 L619.29,281.75 L619.75,286.15 L620.21,290.70 L620.63,295.34 L621.00,300.00 L621.34,304.92 L621.68,310.31 L622.01,316.04 L622.33,321.98 L622.64,328.01 L622.93,333.99 L623.20,339.81 L623.46,345.33 L623.69,350.44 L623.90,355.00 L624.09,359.01 L624.25,362.59 L624.40,365.81 L624.53,368.77 L624.64,371.52 L624.74,374.14 L624.81,376.72 L624.86,379.32 L624.89,382.02 L624.90,384.90 L624.89,387.94 L624.85,391.07 L624.79,394.24 L624.71,397.42 L624.61,400.58 L624.50,403.68 L624.37,406.69 L624.22,409.57 L624.07,412.28 L623.90,414.80 L623.71,417.18 L623.47,419.48 L623.21,421.69 L622.93,423.80 L622.64,425.77 L622.35,427.59 L622.09,429.25 L621.85,430.71 L621.65,431.97 L621.50,433.00"/>
<path d="M620.00,258.00 L620.31,260.49 L620.71,263.66 L621.20,267.42 L621.74,271.63 L622.32,276.19 L622.91,280.97 L623.50,285.86 L624.05,290.74 L624.56,295.49 L625.00,300.00 L625.38,304.49 L625.74,309.21 L626.08,314.07 L626.40,318.99 L626.70,323.88 L626.98,328.66 L627.24,333.25 L627.48,337.56 L627.70,341.50 L627.90,345.00 L628.09,347.96 L628.25,350.43 L628.40,352.50 L628.53,354.29 L628.64,355.89 L628.74,357.42 L628.81,358.99 L628.86,360.68 L628.89,362.62 L628.90,364.90 L628.89,367.50 L628.86,370.30 L628.81,373.26 L628.74,376.33 L628.65,379.47 L628.54,382.65 L628.41,385.81 L628.26,388.92 L628.09,391.93 L627.90,394.80 L627.68,397.61 L627.43,400.46 L627.15,403.30 L626.84,406.12 L626.52,408.87 L626.20,411.53 L625.86,414.08 L625.53,416.47 L625.21,418.69 L624.90,420.70 L624.59,422.52 L624.25,424.18 L623.91,425.70 L623.56,427.08 L623.21,428.32 L622.88,429.43 L622.58,430.42 L622.31,431.29 L622.08,432.05 L621.90,432.70"/>
</g>
<g stroke="#000" fill="none" stroke-width="2" stroke-dasharray="9,3.5">
<path d="M594.00,360.00 L594.28,361.48 L594.63,363.37 L595.04,365.61 L595.50,368.12 L596.01,370.83 L596.55,373.67 L597.13,376.57 L597.73,379.46 L598.36,382.26 L599.00,384.90 L599.67,387.49 L600.39,390.14 L601.15,392.85 L601.95,395.57 L602.76,398.29 L603.59,400.97 L604.43,403.59 L605.27,406.12 L606.09,408.53 L606.90,410.80 L607.70,412.98 L608.53,415.11 L609.36,417.19 L610.19,419.19 L611.02,421.10 L611.84,422.90 L612.64,424.58 L613.43,426.12 L614.18,427.50 L614.90,428.70 L615.61,429.70 L616.32,430.50 L617.04,431.13 L617.73,431.61 L618.40,431.97 L619.03,432.24 L619.60,432.45 L620.12,432.63 L620.55,432.81 L620.90,433.00"/>
</g>
<path d="M499.4,103.3 H420" stroke="#000" stroke-width="2.2"/>
<path d="M413.4,103.3 L423.5,98.8 L421.5,103.3 L423.5,107.8 Z" fill="#000"/>
<g stroke="#111" stroke-width="1.45" fill="none">
<path d="M94.4,149 L151.6,128.6"/>
<path d="M43.3,212.5 L57,267"/>
<path d="M170.3,226.6 L259,206.5"/>
<path d="M486.5,205.5 L599.7,222.5"/>
<path d="M165.7,271.1 L310,267.7"/>
<path d="M166.3,352 L320.4,337.5"/>
<path d="M443.3,337.5 L610,347.4"/>
<path d="M245.8,424.7 L212.2,440.9"/>
<path d="M520,423.5 L584.4,434"/>
<path d="M756.5,177.9 H763 L712.3,277.4"/>
<path d="M706.7,212.2 H722.6 L655.9,302.4"/>
</g>
<g>
<path d="M138.49,370.19 L143.34,364.84 A1.05,1.05 0 0 1 141.86,363.36 L136.51,368.21 A1.4,1.4 0 0 1 138.49,370.19 Z" fill="#000"/>
<path d="M117.15,387.63 L126.59,376.39 A1.05,1.05 0 0 1 125.01,375.01 L115.05,385.77 A1.4,1.4 0 0 1 117.15,387.63 Z" fill="#000"/>
<path d="M129.82,385.18 L143.14,374.52 A0.9,0.9 0 0 1 142.06,373.08 L128.18,383.02 A1.35,1.35 0 0 1 129.82,385.18 Z" fill="#000"/><circle cx="129.72" cy="383.56" r="2.4" fill="#000"/>
<path d="M141.62,383.86 L146.59,379.09 A1.05,1.05 0 0 1 145.21,377.51 L139.78,381.74 A1.4,1.4 0 0 1 141.62,383.86 Z" fill="#000"/>
<path d="M114.48,403.90 L123.34,394.65 A1.05,1.05 0 0 1 121.86,393.15 L112.52,401.90 A1.4,1.4 0 0 1 114.48,403.90 Z" fill="#000"/>
<path d="M126.24,403.84 L131.78,397.21 A1.05,1.05 0 0 1 130.22,395.79 L124.16,401.96 A1.4,1.4 0 0 1 126.24,403.84 Z" fill="#000"/>
<path d="M137.48,398.92 L147.71,392.82 A1.05,1.05 0 0 1 146.69,390.98 L136.12,396.48 A1.4,1.4 0 0 1 137.48,398.92 Z" fill="#000"/>
<path d="M141.54,403.42 L146.53,399.24 A1.05,1.05 0 0 1 145.27,397.56 L139.86,401.18 A1.4,1.4 0 0 1 141.54,403.42 Z" fill="#000"/>
<path d="M98.81,415.16 L106.53,404.64 A1.05,1.05 0 0 1 104.87,403.36 L96.59,413.44 A1.4,1.4 0 0 1 98.81,415.16 Z" fill="#000"/>
<path d="M104.12,422.57 L117.45,411.81 A0.9,0.9 0 0 1 116.35,410.39 L102.48,420.43 A1.35,1.35 0 0 1 104.12,422.57 Z" fill="#000"/><circle cx="104.01" cy="420.95" r="2.4" fill="#000"/>
<path d="M124.45,414.14 L126.54,409.28 A1.05,1.05 0 0 1 124.66,408.32 L121.95,412.86 A1.4,1.4 0 0 1 124.45,414.14 Z" fill="#000"/>
<path d="M133.69,420.12 L146.09,408.68 A0.9,0.9 0 0 1 144.91,407.32 L131.91,418.08 A1.35,1.35 0 0 1 133.69,420.12 Z" fill="#000"/><circle cx="133.48" cy="418.51" r="2.4" fill="#000"/>
<path d="M114.52,429.83 L119.82,425.55 A1.05,1.05 0 0 1 118.58,423.85 L112.88,427.57 A1.4,1.4 0 0 1 114.52,429.83 Z" fill="#000"/>
<path d="M133.70,429.77 L142.98,421.50 A1.05,1.05 0 0 1 141.62,419.90 L131.90,427.63 A1.4,1.4 0 0 1 133.70,429.77 Z" fill="#000"/>
<path d="M148.09,427.29 L152.64,422.24 A1.05,1.05 0 0 1 151.16,420.76 L146.11,425.31 A1.4,1.4 0 0 1 148.09,427.29 Z" fill="#000"/>
<path d="M97.98,447.00 L108.82,431.64 A0.9,0.9 0 0 1 107.38,430.56 L95.82,445.40 A1.35,1.35 0 0 1 97.98,447.00 Z" fill="#000"/><circle cx="97.44" cy="445.48" r="2.4" fill="#000"/>
<path d="M118.54,441.72 L127.83,434.34 A1.05,1.05 0 0 1 126.57,432.66 L116.86,439.48 A1.4,1.4 0 0 1 118.54,441.72 Z" fill="#000"/>
<path d="M127.25,444.85 L139.76,434.20 A0.9,0.9 0 0 1 138.64,432.80 L125.55,442.75 A1.35,1.35 0 0 1 127.25,444.85 Z" fill="#000"/><circle cx="127.10" cy="443.24" r="2.4" fill="#000"/>
<path d="M146.59,441.48 L152.72,433.36 A1.05,1.05 0 0 1 151.08,432.04 L144.41,439.72 A1.4,1.4 0 0 1 146.59,441.48 Z" fill="#000"/>
<path d="M105.62,454.60 L113.44,449.50 A1.05,1.05 0 0 1 112.36,447.70 L104.18,452.20 A1.4,1.4 0 0 1 105.62,454.60 Z" fill="#000"/>
<path d="M122.68,456.70 L126.41,451.67 A1.05,1.05 0 0 1 124.79,450.33 L120.52,454.90 A1.4,1.4 0 0 1 122.68,456.70 Z" fill="#000"/>
<path d="M132.22,466.19 L142.98,453.19 A0.9,0.9 0 0 1 141.62,452.01 L130.18,464.41 A1.35,1.35 0 0 1 132.22,466.19 Z" fill="#000"/><circle cx="131.79" cy="464.62" r="2.4" fill="#000"/>
<path d="M149.79,460.58 L155.92,452.46 A1.05,1.05 0 0 1 154.28,451.14 L147.61,458.82 A1.4,1.4 0 0 1 149.79,460.58 Z" fill="#000"/>
<path d="M105.99,471.69 L116.03,457.03 A0.9,0.9 0 0 1 114.57,455.97 L103.81,470.11 A1.35,1.35 0 0 1 105.99,471.69 Z" fill="#000"/><circle cx="105.43" cy="470.17" r="2.4" fill="#000"/>
<path d="M116.98,477.59 L124.66,470.92 A1.05,1.05 0 0 1 123.34,469.28 L115.22,475.41 A1.4,1.4 0 0 1 116.98,477.59 Z" fill="#000"/>
<path d="M133.78,480.60 L138.33,475.65 A1.05,1.05 0 0 1 136.87,474.15 L131.82,478.60 A1.4,1.4 0 0 1 133.78,480.60 Z" fill="#000"/>
<path d="M153.10,482.48 L162.64,468.12 A0.9,0.9 0 0 1 161.16,467.08 L150.90,480.92 A1.35,1.35 0 0 1 153.10,482.48 Z" fill="#000"/><circle cx="152.52" cy="480.96" r="2.4" fill="#000"/>
<path d="M198.33,377.13 L186.89,364.22 A0.9,0.9 0 0 1 185.51,365.38 L196.27,378.87 A1.35,1.35 0 0 1 198.33,377.13 Z" fill="#000"/><circle cx="196.72" cy="377.31" r="2.4" fill="#000"/>
<path d="M186.49,384.01 L183.44,381.46 A1.05,1.05 0 0 1 181.96,382.94 L184.51,385.99 A1.4,1.4 0 0 1 186.49,384.01 Z" fill="#000"/>
<path d="M196.96,388.29 L192.50,383.62 A1.05,1.05 0 0 1 190.90,384.98 L194.84,390.11 A1.4,1.4 0 0 1 196.96,388.29 Z" fill="#000"/>
<path d="M203.78,394.31 L199.36,391.18 A1.05,1.05 0 0 1 198.04,392.82 L202.02,396.49 A1.4,1.4 0 0 1 203.78,394.31 Z" fill="#000"/>
<path d="M212.58,399.03 L207.36,388.08 A1.05,1.05 0 0 1 205.44,388.92 L210.02,400.17 A1.4,1.4 0 0 1 212.58,399.03 Z" fill="#000"/>
<path d="M196.96,414.86 L185.51,401.14 A0.9,0.9 0 0 1 184.09,402.26 L194.84,416.54 A1.35,1.35 0 0 1 196.96,414.86 Z" fill="#000"/><circle cx="195.34" cy="414.99" r="2.4" fill="#000"/>
<path d="M208.18,411.39 L197.32,397.66 A0.9,0.9 0 0 1 195.88,398.74 L206.02,413.01 A1.35,1.35 0 0 1 208.18,411.39 Z" fill="#000"/><circle cx="206.56" cy="411.48" r="2.4" fill="#000"/>
<path d="M220.59,404.91 L216.84,401.66 A1.05,1.05 0 0 1 215.36,403.14 L218.61,406.89 A1.4,1.4 0 0 1 220.59,404.91 Z" fill="#000"/>
<path d="M187.39,418.47 L181.49,409.55 A1.05,1.05 0 0 1 179.71,410.65 L185.01,419.93 A1.4,1.4 0 0 1 187.39,418.47 Z" fill="#000"/>
<path d="M227.41,419.46 L217.41,412.75 A1.05,1.05 0 0 1 216.19,414.45 L225.79,421.74 A1.4,1.4 0 0 1 227.41,419.46 Z" fill="#000"/>
<path d="M188.93,438.53 L177.39,425.52 A0.9,0.9 0 0 1 176.01,426.68 L186.87,440.27 A1.35,1.35 0 0 1 188.93,438.53 Z" fill="#000"/><circle cx="187.32" cy="438.71" r="2.4" fill="#000"/>
<path d="M188.11,418.14 L182.98,414.20 A1.05,1.05 0 0 1 181.62,415.80 L186.29,420.26 A1.4,1.4 0 0 1 188.11,418.14 Z" fill="#000"/>
<path d="M195.79,428.61 L190.74,424.06 A1.05,1.05 0 0 1 189.26,425.54 L193.81,430.59 A1.4,1.4 0 0 1 195.79,428.61 Z" fill="#000"/>
<path d="M209.13,429.36 L202.58,422.69 A1.05,1.05 0 0 1 201.02,424.11 L207.07,431.24 A1.4,1.4 0 0 1 209.13,429.36 Z" fill="#000"/>
<path d="M214.03,445.53 L202.49,432.52 A0.9,0.9 0 0 1 201.11,433.68 L211.97,447.27 A1.35,1.35 0 0 1 214.03,445.53 Z" fill="#000"/><circle cx="212.42" cy="445.71" r="2.4" fill="#000"/>
<path d="M182.05,448.30 L175.46,439.50 A1.05,1.05 0 0 1 173.74,440.70 L179.75,449.90 A1.4,1.4 0 0 1 182.05,448.30 Z" fill="#000"/>
<path d="M200.19,446.37 L194.29,437.45 A1.05,1.05 0 0 1 192.51,438.55 L197.81,447.83 A1.4,1.4 0 0 1 200.19,446.37 Z" fill="#000"/>
<path d="M182.56,461.38 L171.82,451.83 A1.05,1.05 0 0 1 170.38,453.37 L180.64,463.42 A1.4,1.4 0 0 1 182.56,461.38 Z" fill="#000"/>
<path d="M205.70,466.52 L194.83,452.08 A0.9,0.9 0 0 1 193.37,453.12 L203.50,468.08 A1.35,1.35 0 0 1 205.70,466.52 Z" fill="#000"/><circle cx="204.08" cy="466.57" r="2.4" fill="#000"/>
<path d="M194.68,468.12 L190.26,459.17 A1.05,1.05 0 0 1 188.34,460.03 L192.12,469.28 A1.4,1.4 0 0 1 194.68,468.12 Z" fill="#000"/>
<path d="M216.97,470.81 L211.15,459.16 A1.05,1.05 0 0 1 209.25,460.04 L214.43,471.99 A1.4,1.4 0 0 1 216.97,470.81 Z" fill="#000"/>
<path d="M225.38,463.24 L220.16,452.18 A1.05,1.05 0 0 1 218.24,453.02 L222.82,464.36 A1.4,1.4 0 0 1 225.38,463.24 Z" fill="#000"/>
<path d="M233.86,452.96 L231.42,444.74 A1.05,1.05 0 0 1 229.38,445.26 L231.14,453.64 A1.4,1.4 0 0 1 233.86,452.96 Z" fill="#000"/>
<path d="M189.63,479.63 L178.79,467.42 A0.9,0.9 0 0 1 177.41,468.58 L187.57,481.37 A1.35,1.35 0 0 1 189.63,479.63 Z" fill="#000"/><circle cx="188.02" cy="479.81" r="2.4" fill="#000"/>
<path d="M172.32,478.41 L167.21,470.18 A1.05,1.05 0 0 1 165.39,471.22 L169.88,479.79 A1.4,1.4 0 0 1 172.32,478.41 Z" fill="#000"/>
<path d="M198.85,484.07 L194.34,475.83 A1.05,1.05 0 0 1 192.46,476.77 L196.35,485.33 A1.4,1.4 0 0 1 198.85,484.07 Z" fill="#000"/>
<path d="M226.49,419.61 L220.64,414.26 A1.05,1.05 0 0 1 219.16,415.74 L224.51,421.59 A1.4,1.4 0 0 1 226.49,419.61 Z" fill="#000"/>
<path d="M225.35,440.87 L219.44,429.83 A1.05,1.05 0 0 1 217.56,430.77 L222.85,442.13 A1.4,1.4 0 0 1 225.35,440.87 Z" fill="#000"/>
<path d="M192.99,371.01 L188.74,367.26 A1.05,1.05 0 0 1 187.26,368.74 L191.01,372.99 A1.4,1.4 0 0 1 192.99,371.01 Z" fill="#000"/>
<path d="M206.08,383.10 L200.81,377.33 A1.05,1.05 0 0 1 199.19,378.67 L203.92,384.90 A1.4,1.4 0 0 1 206.08,383.10 Z" fill="#000"/>
<path d="M237.16,431.22 L232.87,425.42 A1.05,1.05 0 0 1 231.13,426.58 L234.84,432.78 A1.4,1.4 0 0 1 237.16,431.22 Z" fill="#000"/>
<path d="M578.03,379.97 L591.95,368.61 A0.9,0.9 0 0 1 590.85,367.19 L576.37,377.83 A1.35,1.35 0 0 1 578.03,379.97 Z" fill="#000"/><circle cx="577.91" cy="378.35" r="2.4" fill="#000"/>
<path d="M566.59,392.89 L573.44,385.54 A1.05,1.05 0 0 1 571.96,384.06 L564.61,390.91 A1.4,1.4 0 0 1 566.59,392.89 Z" fill="#000"/>
<path d="M579.18,394.42 L590.71,387.62 A1.05,1.05 0 0 1 589.69,385.78 L577.82,391.98 A1.4,1.4 0 0 1 579.18,394.42 Z" fill="#000"/>
<path d="M546.15,404.74 L558.29,397.93 A1.05,1.05 0 0 1 557.31,396.07 L544.85,402.26 A1.4,1.4 0 0 1 546.15,404.74 Z" fill="#000"/>
<path d="M558.65,412.35 L571.97,401.00 A0.9,0.9 0 0 1 570.83,399.60 L556.95,410.25 A1.35,1.35 0 0 1 558.65,412.35 Z" fill="#000"/><circle cx="558.50" cy="410.73" r="2.4" fill="#000"/>
<path d="M579.15,402.83 L581.44,397.47 A1.05,1.05 0 0 1 579.56,396.53 L576.65,401.57 A1.4,1.4 0 0 1 579.15,402.83 Z" fill="#000"/>
<path d="M581.95,409.05 L595.27,397.70 A0.9,0.9 0 0 1 594.13,396.30 L580.25,406.95 A1.35,1.35 0 0 1 581.95,409.05 Z" fill="#000"/><circle cx="581.80" cy="407.43" r="2.4" fill="#000"/>
<path d="M569.53,418.29 L574.55,414.79 A1.05,1.05 0 0 1 573.45,413.01 L568.07,415.91 A1.4,1.4 0 0 1 569.53,418.29 Z" fill="#000"/>
<path d="M585.14,419.52 L595.33,411.44 A1.05,1.05 0 0 1 594.07,409.76 L583.46,417.28 A1.4,1.4 0 0 1 585.14,419.52 Z" fill="#000"/>
<path d="M539.45,431.22 L548.89,419.89 A1.05,1.05 0 0 1 547.31,418.51 L537.35,429.38 A1.4,1.4 0 0 1 539.45,431.22 Z" fill="#000"/>
<path d="M551.23,436.07 L562.09,422.58 A0.9,0.9 0 0 1 560.71,421.42 L549.17,434.33 A1.35,1.35 0 0 1 551.23,436.07 Z" fill="#000"/><circle cx="550.78" cy="434.51" r="2.4" fill="#000"/>
<path d="M566.56,439.02 L575.32,430.37 A1.05,1.05 0 0 1 573.88,428.83 L564.64,436.98 A1.4,1.4 0 0 1 566.56,439.02 Z" fill="#000"/>
<path d="M583.82,434.17 L596.15,424.11 A0.9,0.9 0 0 1 595.05,422.69 L582.18,432.03 A1.35,1.35 0 0 1 583.82,434.17 Z" fill="#000"/><circle cx="583.71" cy="432.55" r="2.4" fill="#000"/>
<path d="M545.44,453.12 L553.63,446.54 A1.05,1.05 0 0 1 552.37,444.86 L543.76,450.88 A1.4,1.4 0 0 1 545.44,453.12 Z" fill="#000"/>
<path d="M561.08,461.81 L571.12,447.64 A0.9,0.9 0 0 1 569.68,446.56 L558.92,460.19 A1.35,1.35 0 0 1 561.08,461.81 Z" fill="#000"/><circle cx="560.54" cy="460.28" r="2.4" fill="#000"/>
<path d="M577.05,448.73 L582.38,442.20 A1.05,1.05 0 0 1 580.82,440.80 L574.95,446.87 A1.4,1.4 0 0 1 577.05,448.73 Z" fill="#000"/>
<path d="M588.20,457.70 L600.37,443.50 A0.9,0.9 0 0 1 599.03,442.30 L586.20,455.90 A1.35,1.35 0 0 1 588.20,457.70 Z" fill="#000"/><circle cx="587.80" cy="456.13" r="2.4" fill="#000"/>
<path d="M571.88,469.16 L580.08,463.27 A1.05,1.05 0 0 1 578.92,461.53 L570.32,466.84 A1.4,1.4 0 0 1 571.88,469.16 Z" fill="#000"/>
<path d="M592.21,472.64 L598.91,467.46 A1.05,1.05 0 0 1 597.69,465.74 L590.59,470.36 A1.4,1.4 0 0 1 592.21,472.64 Z" fill="#000"/>
<path d="M598.78,434.10 L605.54,426.95 A1.05,1.05 0 0 1 604.06,425.45 L596.82,432.10 A1.4,1.4 0 0 1 598.78,434.10 Z" fill="#000"/>
<path d="M595.99,448.09 L601.34,442.24 A1.05,1.05 0 0 1 599.86,440.76 L594.01,446.11 A1.4,1.4 0 0 1 595.99,448.09 Z" fill="#000"/>
<path d="M606.57,452.20 L614.60,442.18 A1.05,1.05 0 0 1 613.00,440.82 L604.43,450.40 A1.4,1.4 0 0 1 606.57,452.20 Z" fill="#000"/>
<path d="M610.08,474.41 L620.12,460.14 A0.9,0.9 0 0 1 618.68,459.06 L607.92,472.79 A1.35,1.35 0 0 1 610.08,474.41 Z" fill="#000"/><circle cx="609.54" cy="472.88" r="2.4" fill="#000"/>
<path d="M603.39,479.34 L603.74,472.30 A1.05,1.05 0 0 1 601.66,472.10 L600.61,479.06 A1.4,1.4 0 0 1 603.39,479.34 Z" fill="#000"/>
<path d="M625.70,477.69 L624.65,468.62 A1.05,1.05 0 0 1 622.55,468.78 L622.90,477.91 A1.4,1.4 0 0 1 625.70,477.69 Z" fill="#000"/>
<path d="M629.69,461.66 L623.79,452.85 A1.05,1.05 0 0 1 622.01,453.95 L627.31,463.14 A1.4,1.4 0 0 1 629.69,461.66 Z" fill="#000"/>
<path d="M640.56,452.38 L629.92,442.84 A1.05,1.05 0 0 1 628.48,444.36 L638.64,454.42 A1.4,1.4 0 0 1 640.56,452.38 Z" fill="#000"/>
<path d="M640.82,439.41 L634.91,429.78 A1.05,1.05 0 0 1 633.09,430.82 L638.38,440.79 A1.4,1.4 0 0 1 640.82,439.41 Z" fill="#000"/>
<path d="M647.71,428.23 L637.54,414.48 A0.9,0.9 0 0 1 636.06,415.52 L645.49,429.77 A1.35,1.35 0 0 1 647.71,428.23 Z" fill="#000"/><circle cx="646.08" cy="428.26" r="2.4" fill="#000"/>
<path d="M647.66,471.36 L636.81,458.34 A0.9,0.9 0 0 1 635.39,459.46 L645.54,473.04 A1.35,1.35 0 0 1 647.66,471.36 Z" fill="#000"/><circle cx="646.04" cy="471.49" r="2.4" fill="#000"/>
<path d="M654.83,460.34 L648.92,450.10 A1.05,1.05 0 0 1 647.08,451.10 L652.37,461.66 A1.4,1.4 0 0 1 654.83,460.34 Z" fill="#000"/>
<path d="M658.96,436.52 L653.07,428.41 A1.05,1.05 0 0 1 651.33,429.59 L656.64,438.08 A1.4,1.4 0 0 1 658.96,436.52 Z" fill="#000"/>
<path d="M664.42,455.96 L655.84,445.07 A1.05,1.05 0 0 1 654.16,446.33 L662.18,457.64 A1.4,1.4 0 0 1 664.42,455.96 Z" fill="#000"/>
<path d="M617.15,429.67 L611.24,418.73 A1.05,1.05 0 0 1 609.36,419.67 L614.65,430.93 A1.4,1.4 0 0 1 617.15,429.67 Z" fill="#000"/>
<path d="M638.00,399.28 L632.90,391.46 A1.05,1.05 0 0 1 631.10,392.54 L635.60,400.72 A1.4,1.4 0 0 1 638.00,399.28 Z" fill="#000"/>
<path d="M631.25,411.37 L626.94,403.53 A1.05,1.05 0 0 1 625.06,404.47 L628.75,412.63 A1.4,1.4 0 0 1 631.25,411.37 Z" fill="#000"/>
<path d="M656.19,411.26 L650.89,403.44 A1.05,1.05 0 0 1 649.11,404.56 L653.81,412.74 A1.4,1.4 0 0 1 656.19,411.26 Z" fill="#000"/>
<path d="M667.36,385.52 L655.87,368.92 A1.05,1.05 0 0 1 654.13,370.08 L665.04,387.08 A1.4,1.4 0 0 1 667.36,385.52 Z" fill="#000"/>
<path d="M672.70,379.72 L668.35,375.77 A1.05,1.05 0 0 1 666.85,377.23 L670.70,381.68 A1.4,1.4 0 0 1 672.70,379.72 Z" fill="#000"/>
<path d="M667.25,399.35 L655.70,385.74 A0.9,0.9 0 0 1 654.30,386.86 L665.15,401.05 A1.35,1.35 0 0 1 667.25,399.35 Z" fill="#000"/><circle cx="665.64" cy="399.50" r="2.4" fill="#000"/>
<path d="M681.66,398.40 L671.65,390.97 A1.05,1.05 0 0 1 670.35,392.63 L679.94,400.60 A1.4,1.4 0 0 1 681.66,398.40 Z" fill="#000"/>
<path d="M689.96,391.33 L683.47,387.52 A1.05,1.05 0 0 1 682.33,389.28 L688.44,393.67 A1.4,1.4 0 0 1 689.96,391.33 Z" fill="#000"/>
<path d="M700.65,390.87 L694.89,384.90 A1.05,1.05 0 0 1 693.31,386.30 L698.55,392.73 A1.4,1.4 0 0 1 700.65,390.87 Z" fill="#000"/>
<path d="M707.61,406.30 L696.07,394.00 A0.9,0.9 0 0 1 694.73,395.20 L705.59,408.10 A1.35,1.35 0 0 1 707.61,406.30 Z" fill="#000"/><circle cx="706.00" cy="406.53" r="2.4" fill="#000"/>
<path d="M691.15,410.77 L686.64,402.53 A1.05,1.05 0 0 1 684.76,403.47 L688.65,412.03 A1.4,1.4 0 0 1 691.15,410.77 Z" fill="#000"/>
<path d="M671.19,418.62 L662.67,411.99 A1.05,1.05 0 0 1 661.33,413.61 L669.41,420.78 A1.4,1.4 0 0 1 671.19,418.62 Z" fill="#000"/>
<path d="M706.31,418.85 L701.83,413.56 A1.05,1.05 0 0 1 700.17,414.84 L704.09,420.55 A1.4,1.4 0 0 1 706.31,418.85 Z" fill="#000"/>
<path d="M674.11,435.60 L662.67,423.40 A0.9,0.9 0 0 1 661.33,424.60 L672.09,437.40 A1.35,1.35 0 0 1 674.11,435.60 Z" fill="#000"/><circle cx="672.50" cy="435.83" r="2.4" fill="#000"/>
<path d="M686.28,431.73 L680.36,419.37 A1.05,1.05 0 0 1 678.44,420.23 L683.72,432.87 A1.4,1.4 0 0 1 686.28,431.73 Z" fill="#000"/>
<path d="M693.25,421.97 L690.14,416.53 A1.05,1.05 0 0 1 688.26,417.47 L690.75,423.23 A1.4,1.4 0 0 1 693.25,421.97 Z" fill="#000"/>
<path d="M708.46,423.22 L702.57,415.02 A1.05,1.05 0 0 1 700.83,416.18 L706.14,424.78 A1.4,1.4 0 0 1 708.46,423.22 Z" fill="#000"/>
<path d="M696.06,443.18 L693.72,434.86 A1.05,1.05 0 0 1 691.68,435.34 L693.34,443.82 A1.4,1.4 0 0 1 696.06,443.18 Z" fill="#000"/>
<path d="M686.29,455.46 L681.07,443.80 A1.05,1.05 0 0 1 679.13,444.60 L683.71,456.54 A1.4,1.4 0 0 1 686.29,455.46 Z" fill="#000"/>
<path d="M665.84,457.24 L655.69,445.72 A0.9,0.9 0 0 1 654.31,446.88 L663.76,458.96 A1.35,1.35 0 0 1 665.84,457.24 Z" fill="#000"/><circle cx="664.22" cy="457.41" r="2.4" fill="#000"/>
<path d="M677.17,463.10 L671.25,451.35 A1.05,1.05 0 0 1 669.35,452.25 L674.63,464.30 A1.4,1.4 0 0 1 677.17,463.10 Z" fill="#000"/>
<path d="M667.32,474.76 L662.84,469.37 A1.05,1.05 0 0 1 661.16,470.63 L665.08,476.44 A1.4,1.4 0 0 1 667.32,474.76 Z" fill="#000"/>
<path d="M696.30,366.85 L684.60,359.14 A1.05,1.05 0 0 1 683.40,360.86 L694.70,369.15 A1.4,1.4 0 0 1 696.30,366.85 Z" fill="#000"/>
<path d="M711.05,379.08 L703.79,371.31 A1.05,1.05 0 0 1 702.21,372.69 L708.95,380.92 A1.4,1.4 0 0 1 711.05,379.08 Z" fill="#000"/>
<circle cx="132.9" cy="389.3" r="1.2" fill="#000"/>
<circle cx="134.2" cy="404.9" r="1.2" fill="#000"/>
<circle cx="147.2" cy="415.2" r="1.2" fill="#000"/>
<circle cx="104.1" cy="447.8" r="1.2" fill="#000"/>
<circle cx="123.2" cy="426.3" r="1.2" fill="#000"/>
<circle cx="134.4" cy="447.8" r="1.2" fill="#000"/>
<circle cx="150.3" cy="443.8" r="1.2" fill="#000"/>
<circle cx="157.5" cy="459.7" r="1.2" fill="#000"/>
<circle cx="144.7" cy="467.7" r="1.2" fill="#000"/>
<circle cx="118.5" cy="464.5" r="1.2" fill="#000"/>
<circle cx="147.1" cy="415.1" r="1.2" fill="#000"/>
<circle cx="195.9" cy="419.2" r="1.2" fill="#000"/>
<circle cx="212.0" cy="419.9" r="1.2" fill="#000"/>
<circle cx="185.8" cy="446.4" r="1.2" fill="#000"/>
<circle cx="206.0" cy="451.9" r="1.2" fill="#000"/>
<circle cx="184.4" cy="456.1" r="1.2" fill="#000"/>
<circle cx="187.9" cy="469.4" r="1.2" fill="#000"/>
<circle cx="213.0" cy="435.9" r="1.2" fill="#000"/>
<circle cx="195.5" cy="420.6" r="1.2" fill="#000"/>
<circle cx="212.3" cy="420.6" r="1.2" fill="#000"/>
<circle cx="588.9" cy="377.6" r="1.2" fill="#000"/>
<circle cx="589.5" cy="393.2" r="1.2" fill="#000"/>
<circle cx="578.5" cy="415.8" r="1.2" fill="#000"/>
<circle cx="557.9" cy="438.7" r="1.2" fill="#000"/>
<circle cx="573.2" cy="456.8" r="1.2" fill="#000"/>
<circle cx="590.0" cy="438.7" r="1.2" fill="#000"/>
<circle cx="607.6" cy="434.5" r="1.2" fill="#000"/>
<circle cx="614.5" cy="449.9" r="1.2" fill="#000"/>
<circle cx="601.3" cy="458.2" r="1.2" fill="#000"/>
<circle cx="642.4" cy="446.4" r="1.2" fill="#000"/>
<circle cx="644.5" cy="436.6" r="1.2" fill="#000"/>
<circle cx="646.6" cy="459.6" r="1.2" fill="#000"/>
<circle cx="634.0" cy="473.6" r="1.2" fill="#000"/>
<circle cx="595.0" cy="466.6" r="1.2" fill="#000"/>
<circle cx="695.4" cy="403.7" r="1.2" fill="#000"/>
<circle cx="672.4" cy="410.0" r="1.2" fill="#000"/>
<circle cx="705.9" cy="427.4" r="1.2" fill="#000"/>
<circle cx="665.5" cy="442.1" r="1.2" fill="#000"/>
<circle cx="673.1" cy="425.3" r="1.2" fill="#000"/>
<circle cx="620.0" cy="445.0" r="1.2" fill="#000"/>
<circle cx="612.0" cy="462.0" r="1.2" fill="#000"/>
</g>
</svg>
</body></html>
